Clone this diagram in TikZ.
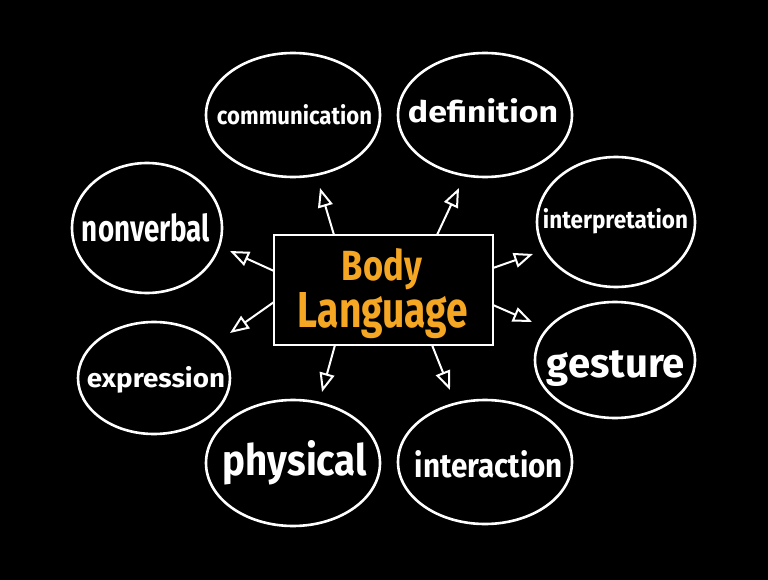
\documentclass[tikz,border=0pt]{standalone}
\usepackage{fontspec}
\usepackage{graphicx}
\setmainfont{Fira Sans}
\usetikzlibrary{arrows.meta,shapes.geometric}
\definecolor{bodyorange}{HTML}{F5A623}
\newcommand\fitword[3]{\resizebox{#1pt}{#2pt}{\bfseries #3}}
\begin{document}
\begin{tikzpicture}[x=1pt,y=-1pt,
  bubble/.style={ellipse, draw=white, line width=2.6pt, inner sep=0pt},
  word/.style={text=white, anchor=base, inner sep=0pt},
  title/.style={text=bodyorange, anchor=base, inner sep=0pt},
  ptr/.style={draw=white, line width=2pt, line cap=round,
    -{Triangle[open, length=19pt, width=15pt, line width=2pt]}}
]
\fill[black] (0,0) rectangle (768,580);
\useasboundingbox (0,0) rectangle (768,580);

% central box
\node[draw=white, line width=2.6pt, minimum width=219pt, minimum height=110pt, inner sep=0pt] (core) at (383.5,290) {};
\node[title] (t1) at (382,280) {\fitword{80}{32}{Body}};
\node[title] (t2) at (383,327) {\fitword{170}{35}{Language}};

% bubbles
\node[bubble, minimum width=174pt, minimum height=124pt] (comm) at (293,115) {};
\node[bubble, minimum width=174pt, minimum height=124pt] (defi) at (485,115) {};
\node[bubble, minimum width=158pt, minimum height=130pt] (interp) at (616,222) {};
\node[bubble, minimum width=150pt, minimum height=130pt] (nonv) at (147,228) {};
\node[bubble, minimum width=152pt, minimum height=112pt] (expr) at (154,378) {};
\node[bubble, minimum width=174pt, minimum height=126pt] (phys) at (293,463) {};
\node[bubble, minimum width=160pt, minimum height=116pt] (gest) at (615,360) {};
\node[bubble, minimum width=174pt, minimum height=124pt] (inter) at (485,462) {};

% words
\node[word] (commT) at (294.5,125) {\fitword{155}{20}{communication}};
\node[word] (defiT) at (483,123) {\fitword{150}{24}{definition}};
\node[word] (interpT) at (615.5,229) {\fitword{145}{20}{interpretation}};
\node[word] (nonvT) at (146,242) {\fitword{128}{28}{nonverbal}};
\node[word] (exprT) at (156,387) {\fitword{138}{21}{expression}};
\node[word] (physT) at (295,475) {\fitword{144}{35}{physical}};
\node[word] (gestT) at (616,377) {\fitword{138}{27}{gesture}};
\node[word] (interT) at (489,477) {\fitword{148}{27}{interaction}};

% arrow ends
\coordinate (sComm) at (334,235);   \coordinate (eComm) at (320,188);
\coordinate (sDefi) at (437,235);   \coordinate (eDefi) at (459,188);
\coordinate (sInterp) at (493,268); \coordinate (eInterp) at (533,254);
\coordinate (sGest) at (493,305);   \coordinate (eGest) at (532,322);
\coordinate (sInter) at (432,345);  \coordinate (eInter) at (450,390);
\coordinate (sPhys) at (335,345);   \coordinate (ePhys) at (322,392);
\coordinate (sExpr) at (274,302);   \coordinate (eExpr) at (230,333);
\coordinate (sNonv) at (274,271);   \coordinate (eNonv) at (230,251);

\draw[ptr] (sComm) -- (eComm);
\draw[ptr] (sDefi) -- (eDefi);
\draw[ptr] (sInterp) -- (eInterp);
\draw[ptr] (sGest) -- (eGest);
\draw[ptr] (sInter) -- (eInter);
\draw[ptr] (sPhys) -- (ePhys);
\draw[ptr] (sExpr) -- (eExpr);
\draw[ptr] (sNonv) -- (eNonv);
\end{tikzpicture}
\end{document}
